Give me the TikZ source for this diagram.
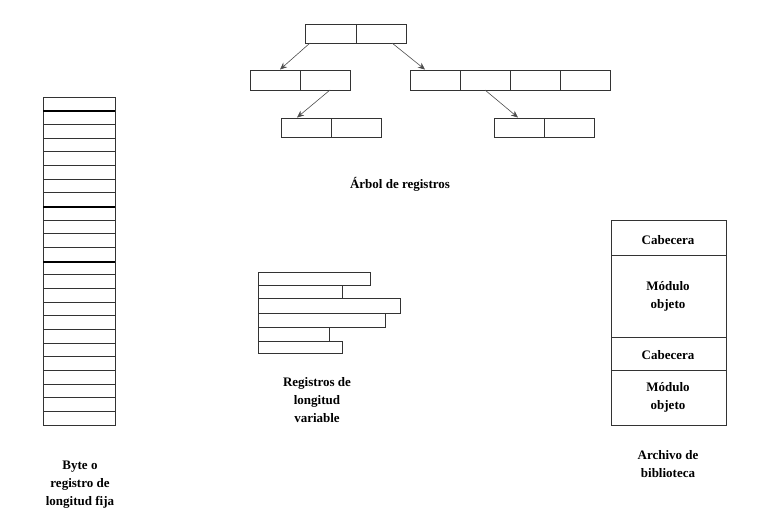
\documentclass[tikz,border=0pt]{standalone}
\usepackage{fontspec}
\setmainfont{Liberation Serif}
\usetikzlibrary{arrows.meta}
\begin{document}
\begin{tikzpicture}[x=1pt,y=-1pt,
  box/.style={draw=black!80,line width=0.9pt},
  lbl/.style={font=\bfseries\fontsize{13}{18}\selectfont,align=center},
  arr/.style={draw=black!70,line width=0.6pt,-{Stealth[length=7pt,width=6pt]}}]
\useasboundingbox (0,0) rectangle (757,527);
% fixed-length stack
\foreach \i in {0,...,23}{
  \draw[box] (43,{97+\i*13.67}) rectangle (115,{97+(\i+1)*13.67});}
\foreach \yy in {110.7,207,261.7}{\draw[line width=1.8pt] (43,\yy) -- (115,\yy);}
\node[lbl] (fix) at (80,485) {Byte o\\registro de\\longitud fija};
% tree
\node[box,minimum width=101pt,minimum height=19pt,inner sep=0] (t) at (355.5,33.5) {};
\draw[box] (356,24) -- (356,43);
\node[box,minimum width=100pt,minimum height=20pt,inner sep=0] (l) at (300,80) {};
\draw[box] (300,70) -- (300,90);
\node[box,minimum width=200pt,minimum height=20pt,inner sep=0] (r) at (510,80) {};
\foreach \xx in {460,510,560}{\draw[box] (\xx,70) -- (\xx,90);}
\node[box,minimum width=100pt,minimum height=19pt,inner sep=0] (ll) at (331,127.5) {};
\draw[box] (331,118) -- (331,137);
\node[box,minimum width=100pt,minimum height=19pt,inner sep=0] (rr) at (544,127.5) {};
\draw[box] (544,118) -- (544,137);
\coordinate (a1) at (310,43); \coordinate (a2) at (392,43);
\coordinate (a3) at (330,90); \coordinate (a4) at (485,90);
\draw[arr] (a1) -- (280,70 |- l.north);
\draw[arr] (a2) -- (425,70 |- r.north);
\draw[arr] (a3) -- (297,118 |- ll.north);
\draw[arr] (a4) -- (518,118 |- rr.north);
\node[lbl] (tl) at (400,184) {Árbol de registros};
% variable records
\draw[box] (258,272) rectangle (370,285);
\draw[box] (258,285) rectangle (342,298);
\draw[box] (258,298) rectangle (400,313);
\draw[box] (258,313) rectangle (385,327);
\draw[box] (258,327) rectangle (329,341);
\draw[box] (258,341) rectangle (342,353);
\node[lbl] (vl) at (317,400) {Registros de\\longitud\\variable};
% library
\draw[box] (611,220) rectangle (726,425);
\foreach \yy in {255,337,370}{\draw[box] (611,\yy) -- (726,\yy);}
\node[lbl] (c1) at (668,240) {Cabecera};
\node[lbl] (m1) at (668,296) {Módulo\\objeto};
\node[lbl] (c2) at (668,355) {Cabecera};
\node[lbl] (m2) at (668,397) {Módulo\\objeto};
\node[lbl] (al) at (668,464) {Archivo de\\biblioteca};
\end{tikzpicture}
\end{document}
